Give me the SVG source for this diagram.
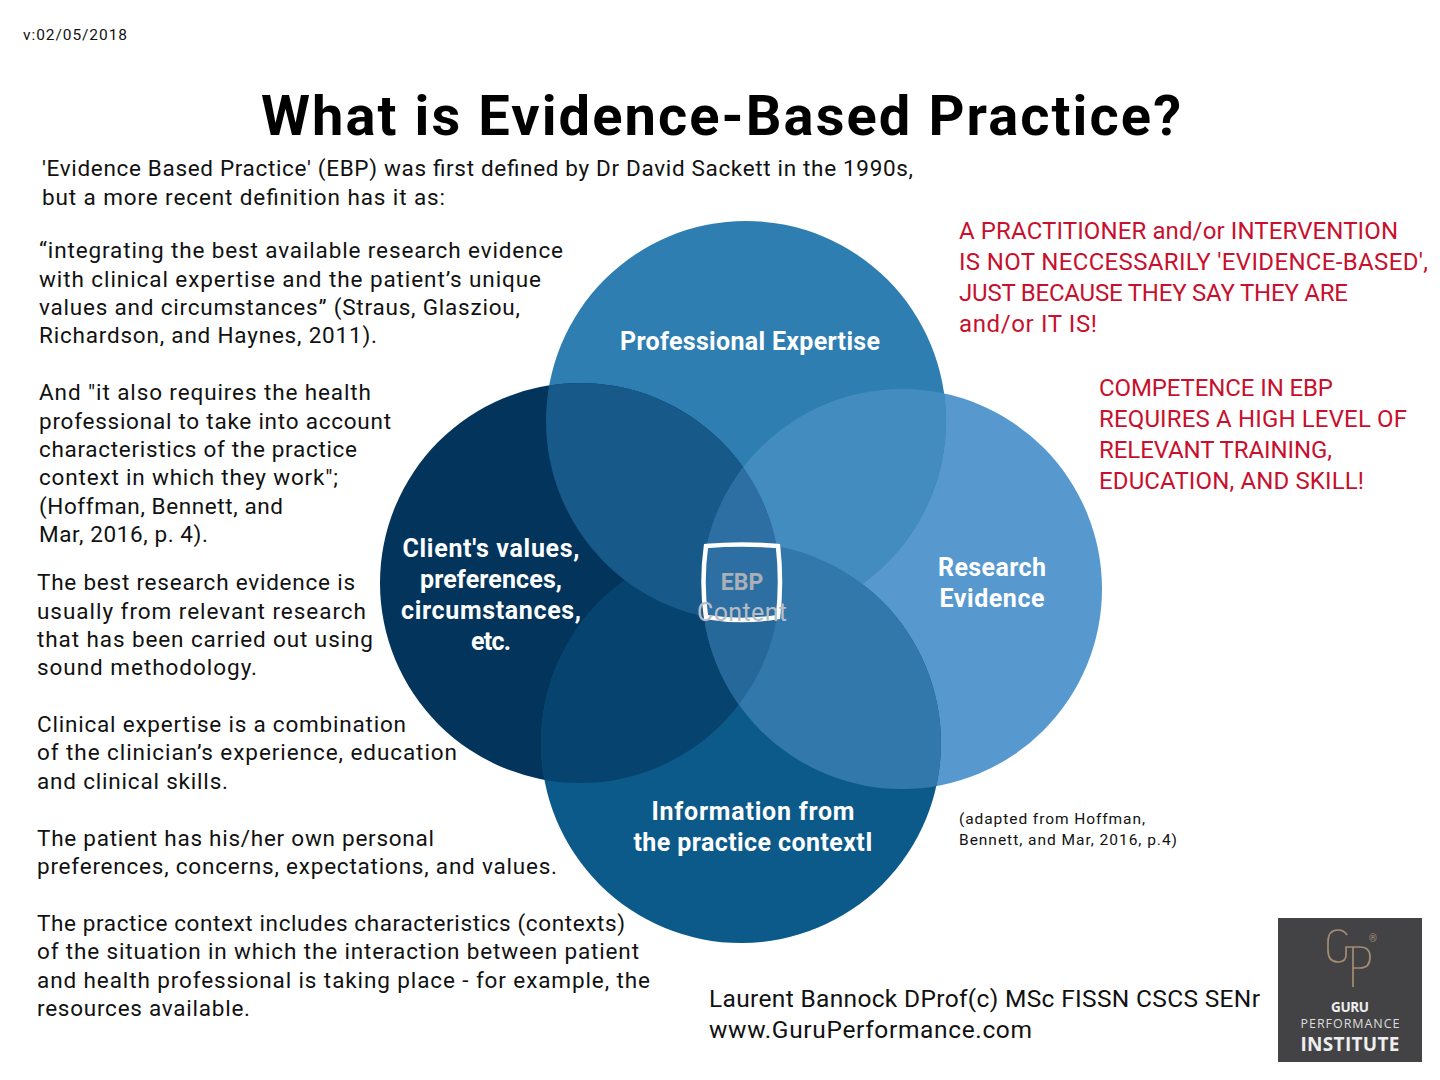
<svg xmlns="http://www.w3.org/2000/svg" width="1440" height="1080" viewBox="0 0 1440 1080">
<style>
text{font-family:"Roboto","Liberation Sans",sans-serif;fill:#111}
.b{font-size:22.5px}
.r{font-size:24px;fill:#c8102e}
.w{font-size:25px;font-weight:700;fill:#fff;text-anchor:middle}
</style>
<defs>
<clipPath id="ct"><circle cx="746" cy="421" r="200"/></clipPath>
<clipPath id="cl"><circle cx="580" cy="583" r="200"/></clipPath>
<clipPath id="cr"><circle cx="902" cy="589" r="200"/></clipPath>
<clipPath id="cb"><circle cx="741" cy="743" r="200"/></clipPath>
</defs>
<rect width="1440" height="1080" fill="#fff"/>
<text x="23" y="40" textLength="104" style="font-size:15.5px">v:02/05/2018</text>
<text x="261" y="135" textLength="920" style="font-size:56px;font-weight:700;fill:#000">What is Evidence-Based Practice?</text>
<g id="intro" transform="translate(0,-0.5)">
<text class="b" x="42" y="176" textLength="871">'Evidence Based Practice' (EBP) was first defined by Dr David Sackett in the 1990s,</text>
<text class="b" x="42" y="205" textLength="403">but a more recent definition has it as:</text>
</g>
<g id="venn">
<circle id="n-right" cx="902" cy="589" r="200" fill="#5799cf"/>
<circle id="n-top" cx="746" cy="421" r="200" fill="#2e7eb2"/>
<circle id="n-left" cx="580" cy="583" r="200" fill="#02345c"/>
<circle id="n-bottom" cx="741" cy="743" r="200" fill="#0b5a8a"/>
<g clip-path="url(#cb)"><circle cx="580" cy="583" r="200" fill="#06446f"/></g>
<g clip-path="url(#ct)"><circle cx="580" cy="583" r="200" fill="#175a8a"/><circle cx="902" cy="589" r="200" fill="#438cc0"/></g>
<g clip-path="url(#cb)"><circle cx="902" cy="589" r="200" fill="#3278ab"/></g>
<g clip-path="url(#cl)"><circle cx="902" cy="589" r="200" fill="#26689a"/><g clip-path="url(#ct)"><circle cx="902" cy="589" r="200" fill="#2e6fa3"/></g></g>
</g>
<g id="l-top"><text class="w" x="750" y="350" textLength="260">Professional Expertise</text></g>
<g id="l-left"><text class="w" x="491" y="557" textLength="177">Client's values,</text><text class="w" x="491" y="588" textLength="142">preferences,</text><text class="w" x="491" y="619" textLength="180">circumstances,</text><text class="w" x="491" y="650" textLength="40">etc.</text></g>
<g id="l-right"><text class="w" x="992" y="576" textLength="108">Research</text><text class="w" x="992" y="607" textLength="105">Evidence</text></g>
<g id="l-bottom"><text class="w" x="753" y="820" textLength="203">Information from</text><text class="w" x="753" y="851" textLength="239">the practice contextI</text></g>
<g id="ebp">
<path d="M706 546Q742 543 778 546Q782 582 778 617Q742 623 706 617Q701 582 706 546Z" fill="none" stroke="#fff" stroke-width="4.5"/>
<text x="742" y="590" text-anchor="middle" style="font-size:23px;font-weight:700;fill:#aab0b8">EBP</text>
<text x="742" y="621" text-anchor="middle" textLength="90" style="font-size:25px;fill:#b9bec6">Content</text>
</g>
<g id="quote" transform="translate(0,-0.5)">
<text class="b" x="39" y="258" textLength="524">“integrating the best available research evidence</text>
<text class="b" x="39" y="287" textLength="502">with clinical expertise and the patient’s unique</text>
<text class="b" x="39" y="315" textLength="481">values and circumstances” (Straus, Glasziou,</text>
<text class="b" x="39" y="343" textLength="338">Richardson, and Haynes, 2011).</text>
<text class="b" x="39" y="400" textLength="332">And "it also requires the health</text>
<text class="b" x="39" y="429" textLength="352">professional to take into account</text>
<text class="b" x="39" y="457" textLength="318">characteristics of the practice</text>
<text class="b" x="39" y="485" textLength="299">context in which they work";</text>
<text class="b" x="39" y="514" textLength="244">(Hoffman, Bennett, and</text>
<text class="b" x="39" y="542" textLength="169">Mar, 2016, p. 4).</text>
</g>
<g id="explain" transform="translate(0,-0.5)">
<text class="b" x="37" y="590" textLength="318">The best research evidence is</text>
<text class="b" x="37" y="619" textLength="329">usually from relevant research</text>
<text class="b" x="37" y="647" textLength="336">that has been carried out using</text>
<text class="b" x="37" y="675" textLength="220">sound methodology.</text>
<text class="b" x="37" y="732" textLength="369">Clinical expertise is a combination</text>
<text class="b" x="37" y="760" textLength="420">of the clinician’s experience, education</text>
<text class="b" x="37" y="789" textLength="191">and clinical skills.</text>
<text class="b" x="37" y="846" textLength="397">The patient has his/her own personal</text>
<text class="b" x="37" y="874" textLength="520">preferences, concerns, expectations, and values.</text>
<text class="b" x="37" y="931" textLength="588">The practice context includes characteristics (contexts)</text>
<text class="b" x="37" y="959" textLength="602">of the situation in which the interaction between patient</text>
<text class="b" x="37" y="988" textLength="613">and health professional is taking place - for example, the</text>
<text class="b" x="37" y="1016" textLength="213">resources available.</text>
</g>
<g id="warn1" transform="translate(0,-0.5)">
<text class="r" x="959" y="239" textLength="439">A PRACTITIONER and/or INTERVENTION</text>
<text class="r" x="959" y="270" textLength="469">IS NOT NECCESSARILY 'EVIDENCE-BASED',</text>
<text class="r" x="959" y="301" textLength="389">JUST BECAUSE THEY SAY THEY ARE</text>
<text class="r" x="959" y="332" textLength="138">and/or IT IS!</text>
</g>
<g id="warn2" transform="translate(0,-0.5)">
<text class="r" x="1099" y="396" textLength="234">COMPETENCE IN EBP</text>
<text class="r" x="1099" y="427" textLength="308">REQUIRES A HIGH LEVEL OF</text>
<text class="r" x="1099" y="458" textLength="233">RELEVANT TRAINING,</text>
<text class="r" x="1099" y="489" textLength="265">EDUCATION, AND SKILL!</text>
</g>
<g id="cite">
<text x="959" y="824" textLength="186" style="font-size:15.5px">(adapted from Hoffman,</text>
<text x="959" y="845" textLength="218" style="font-size:15.5px">Bennett, and Mar, 2016, p.4)</text>
</g>
<g id="author" transform="translate(0,-0.5)">
<text x="709" y="1007" textLength="551" style="font-size:24.5px">Laurent Bannock DProf(c) MSc FISSN CSCS SENr</text>
<text x="709" y="1038" textLength="323" style="font-size:24.5px">www.GuruPerformance.com</text>
</g>
<g id="logo">
<rect x="1278" y="918" width="144" height="144" fill="#434345"/>
<path d="M1347 935Q1344 930 1338 930Q1328 930 1328 942V950Q1328 962 1338 962Q1346 962 1346 955V947H1360Q1370 947 1370 957Q1370 968 1360 968H1353M1353 947V987" fill="none" stroke="#a58c73" stroke-width="1.7"/>
<text x="1373" y="942" text-anchor="middle" style="font-size:10px;fill:#a58c73">®</text>
<text x="1350" y="1012" text-anchor="middle" textLength="38" style="font-size:13.5px;font-weight:700;fill:#eee;font-family:'Open Sans',sans-serif">GURU</text>
<text x="1350" y="1028" text-anchor="middle" textLength="99" style="font-size:12.5px;fill:#ddd;font-family:'Open Sans',sans-serif">PERFORMANCE</text>
<text x="1350" y="1051" text-anchor="middle" textLength="99" style="font-size:19px;font-weight:700;fill:#eee;font-family:'Open Sans',sans-serif">INSTITUTE</text>
</g>
</svg>
